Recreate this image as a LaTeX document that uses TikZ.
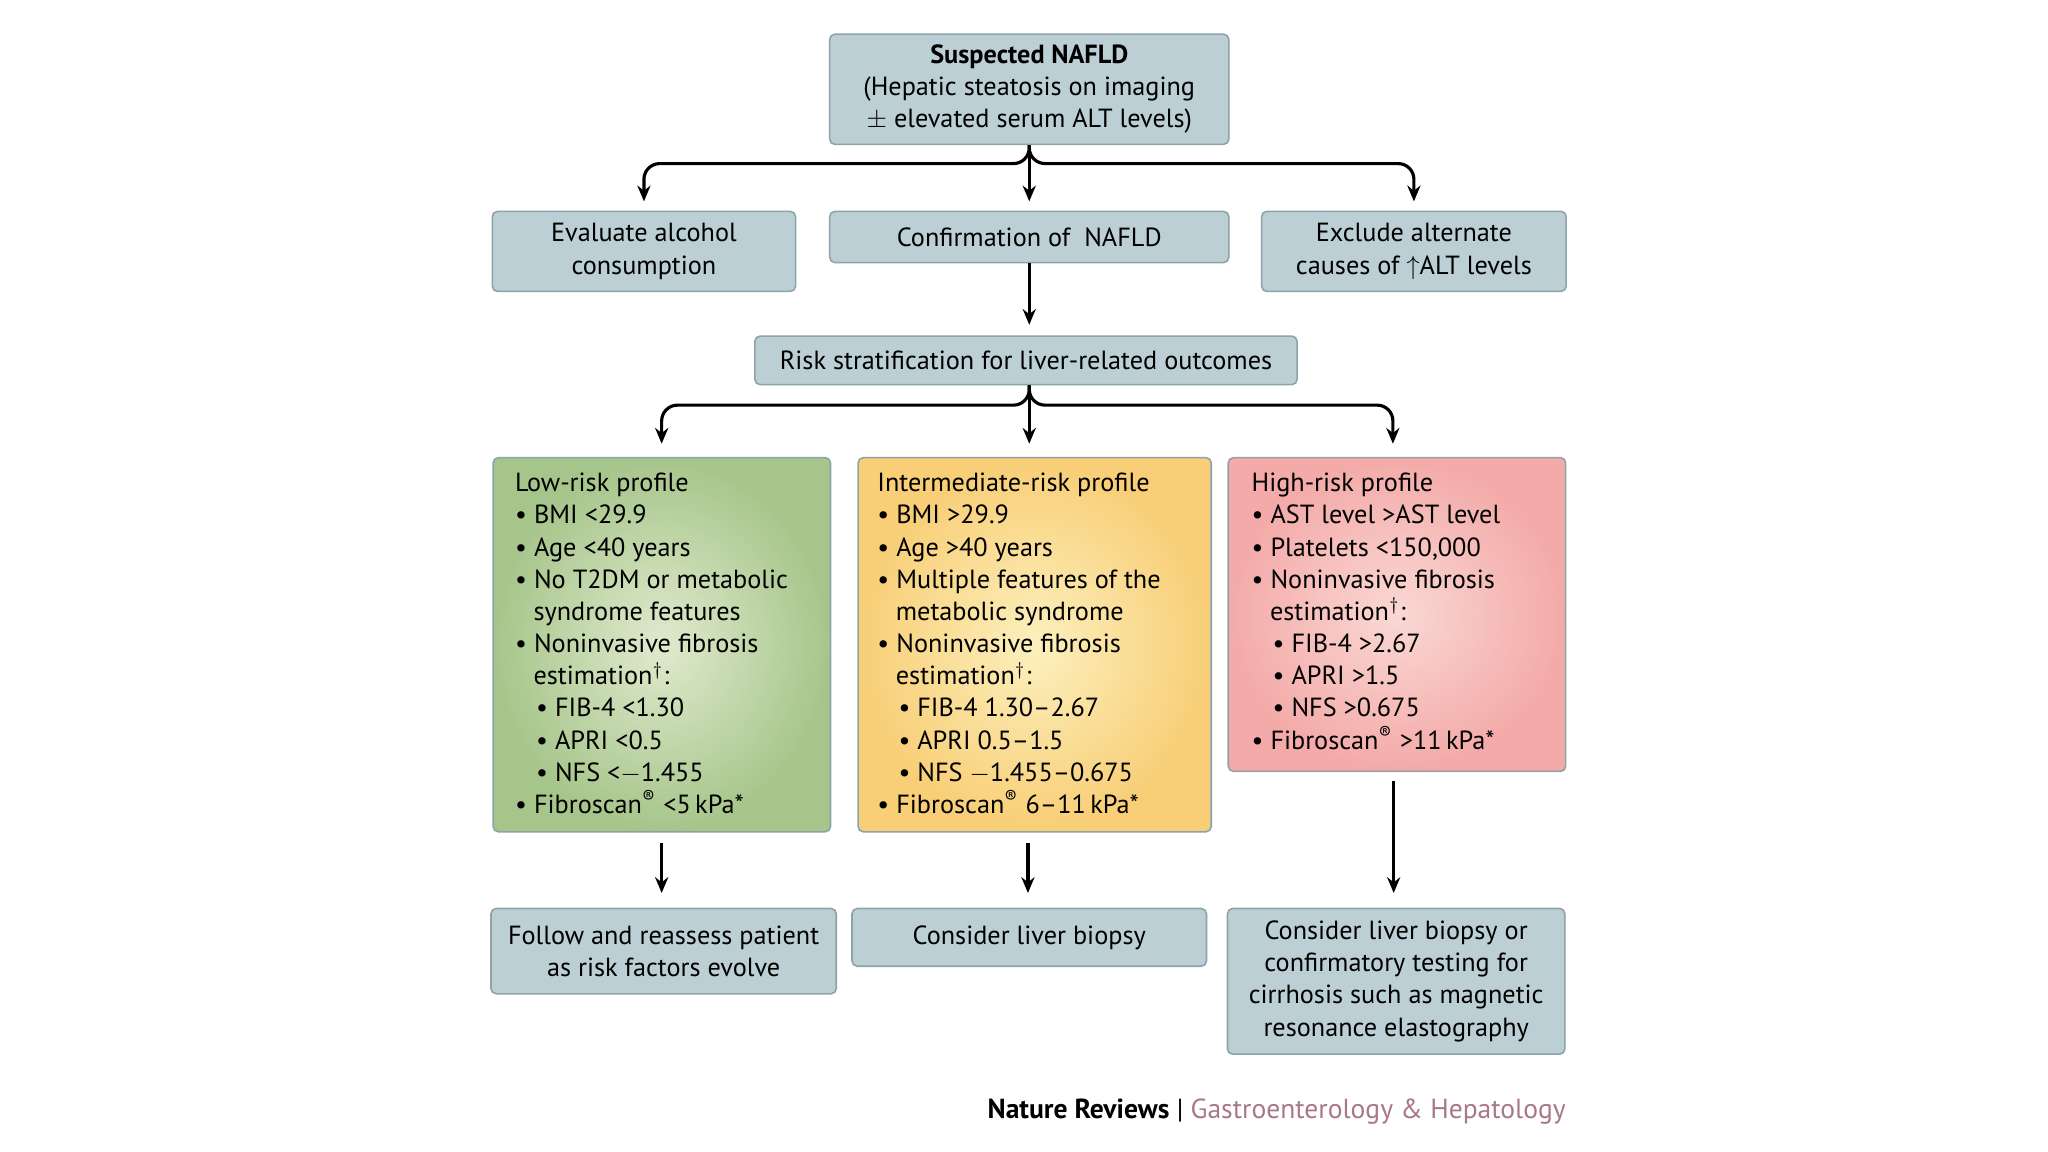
\documentclass[tikz,border=0pt]{standalone}
\usepackage{fontspec}
\setmainfont{PT Sans}
\usetikzlibrary{arrows.meta}
\definecolor{boxfill}{HTML}{BCCFD4}
\definecolor{boxline}{HTML}{8CA3AA}
\definecolor{footc}{HTML}{A87886}
\tikzstyle{box}=[draw=boxline,fill=boxfill,rounded corners=2pt,align=center,inner sep=2pt,line width=.6pt]
\tikzstyle{panel}=[draw=boxline,rounded corners=2pt,line width=.6pt,inner sep=0pt,anchor=north west]
\tikzstyle{arr}=[-{Stealth[length=6pt,width=5pt]},line width=1.2pt,shorten >=3.5pt]
\tikzset{txt/.style={anchor=north west,align=left,inner sep=0pt}}
\newcommand{\bul}{\textbullet\ }
\begin{document}
\begin{tikzpicture}[x=0.5pt,y=-0.5pt,font=\fontsize{10}{12.25}\selectfont]
  \useasboundingbox (0,0) rectangle (1560,877.5);
  % first row
  \node[box,minimum width=152pt,minimum height=42pt] (susp) at (784,68) {\textbf{Suspected NAFLD}\\(Hepatic steatosis on imaging\\$\pm$ elevated serum ALT levels)};
  \node[box,minimum width=115.5pt,minimum height=30.5pt] (alc) at (490.5,191.5) {Evaluate alcohol\\consumption};
  \node[box,minimum width=152pt,minimum height=19.5pt] (conf) at (784,180.5) {Confirmation of\ \ NAFLD};
  \node[box,minimum width=116pt,minimum height=30.5pt] (excl) at (1077,191.5) {Exclude alternate\\causes of $\uparrow$ALT levels};
  \node[box,minimum width=206.5pt,minimum height=18.5pt] (risk) at (781.5,274.5) {Risk stratification for liver-related outcomes};
  % profiles
  \node[panel,shading=radial,inner color={rgb,255:red,224;green,234;blue,206},outer color={rgb,255:red,166;green,197;blue,138},minimum width=128.5pt,minimum height=142.5pt] (low) at (375,348) {};
  \node[panel,shading=radial,inner color={rgb,255:red,252;green,240;blue,190},outer color={rgb,255:red,248;green,206;blue,118},minimum width=134.5pt,minimum height=142.5pt] (mid) at (653,348) {};
  \node[panel,shading=radial,inner color={rgb,255:red,250;green,216;blue,212},outer color={rgb,255:red,243;green,170;blue,168},minimum width=128.5pt,minimum height=119.5pt] (high) at (935,348) {};
  \node[txt] (lowtxt) at (392,360) {Low-risk profile\\
    \bul BMI <29.9\\ \bul Age <40 years\\ \bul No T2DM or metabolic\\ \hspace*{7pt}syndrome features\\
    \bul Noninvasive fibrosis\\ \hspace*{7pt}estimation$^{\dagger}$:\\
    \hspace*{8pt}\bul FIB-4 <1.30\\ \hspace*{8pt}\bul APRI <0.5\\ \hspace*{8pt}\bul NFS <$-$1.455\\
    \bul Fibroscan\textsuperscript{\textregistered} <5\,kPa*};
  \node[txt] (midtxt) at (668,360) {Intermediate-risk profile\\
    \bul BMI >29.9\\ \bul Age >40 years\\ \bul Multiple features of the\\ \hspace*{7pt}metabolic syndrome\\
    \bul Noninvasive fibrosis\\ \hspace*{7pt}estimation$^{\dagger}$:\\
    \hspace*{8pt}\bul FIB-4 1.30--2.67\\ \hspace*{8pt}\bul APRI 0.5--1.5\\ \hspace*{8pt}\bul NFS $-$1.455--0.675\\
    \bul Fibroscan\textsuperscript{\textregistered} 6--11\,kPa*};
  \node[txt] (hightxt) at (953,360) {High-risk profile\\
    \bul AST level >AST level\\ \bul Platelets <150,000\\
    \bul Noninvasive fibrosis\\ \hspace*{7pt}estimation$^{\dagger}$:\\
    \hspace*{8pt}\bul FIB-4 >2.67\\ \hspace*{8pt}\bul APRI >1.5\\ \hspace*{8pt}\bul NFS >0.675\\
    \bul Fibroscan\textsuperscript{\textregistered} >11\,kPa*};
  % last row
  \node[box,minimum width=131.5pt,minimum height=32.5pt] (follow) at (505.5,724.5) {Follow and reassess patient\\as risk factors evolve};
  \node[box,minimum width=135pt,minimum height=22pt] (biop) at (784,714) {Consider liver biopsy};
  \node[box,minimum width=128.5pt,minimum height=55.5pt] (mre) at (1063.5,747.5) {Consider liver biopsy or\\confirmatory testing for\\cirrhosis such as magnetic\\resonance elastography};
  % connectors
  \draw[arr] (susp.south) -- (conf.north);
  \draw[arr,rounded corners=6pt] (susp.south) -- ++(0,14) -| (alc.north);
  \draw[arr,rounded corners=6pt] (susp.south) -- ++(0,14) -| (excl.north);
  \draw[arr,shorten >=4pt] (conf.south) -- (conf.south |- risk.north);
  \coordinate (lowtop) at (504,348);
  \coordinate (hightop) at (1061,348);
  \coordinate (midtop) at (784,348);
  \draw[arr,shorten >=5pt] (risk.south) ++(2.5,0) -- (midtop);
  \draw[arr,rounded corners=6pt,shorten >=5pt] (risk.south) ++(2.5,0) -- ++(0,15) -| (lowtop);
  \draw[arr,rounded corners=6pt,shorten >=5pt] (risk.south) ++(2.5,0) -- ++(0,15) -| (hightop);
  \draw[arr,shorten <=4pt] (low.south -| follow.north) ++(-1.5,0) -- ++(0,53);
  \draw[arr,shorten <=4pt] (mid.south -| biop.north) ++(-1,0) -- ++(0,53);
  \draw[arr,shorten <=3.5pt] (high.south) ++(-2.5,0) -- ++(0,99);
  % footer
  \node[anchor=base east,inner sep=0pt,font=\fontsize{10.5}{12}\selectfont] (foot) at (1193,852) {\textbf{Nature Reviews} | \textcolor{footc}{Gastroenterology \& Hepatology}};
\end{tikzpicture}
\end{document}
